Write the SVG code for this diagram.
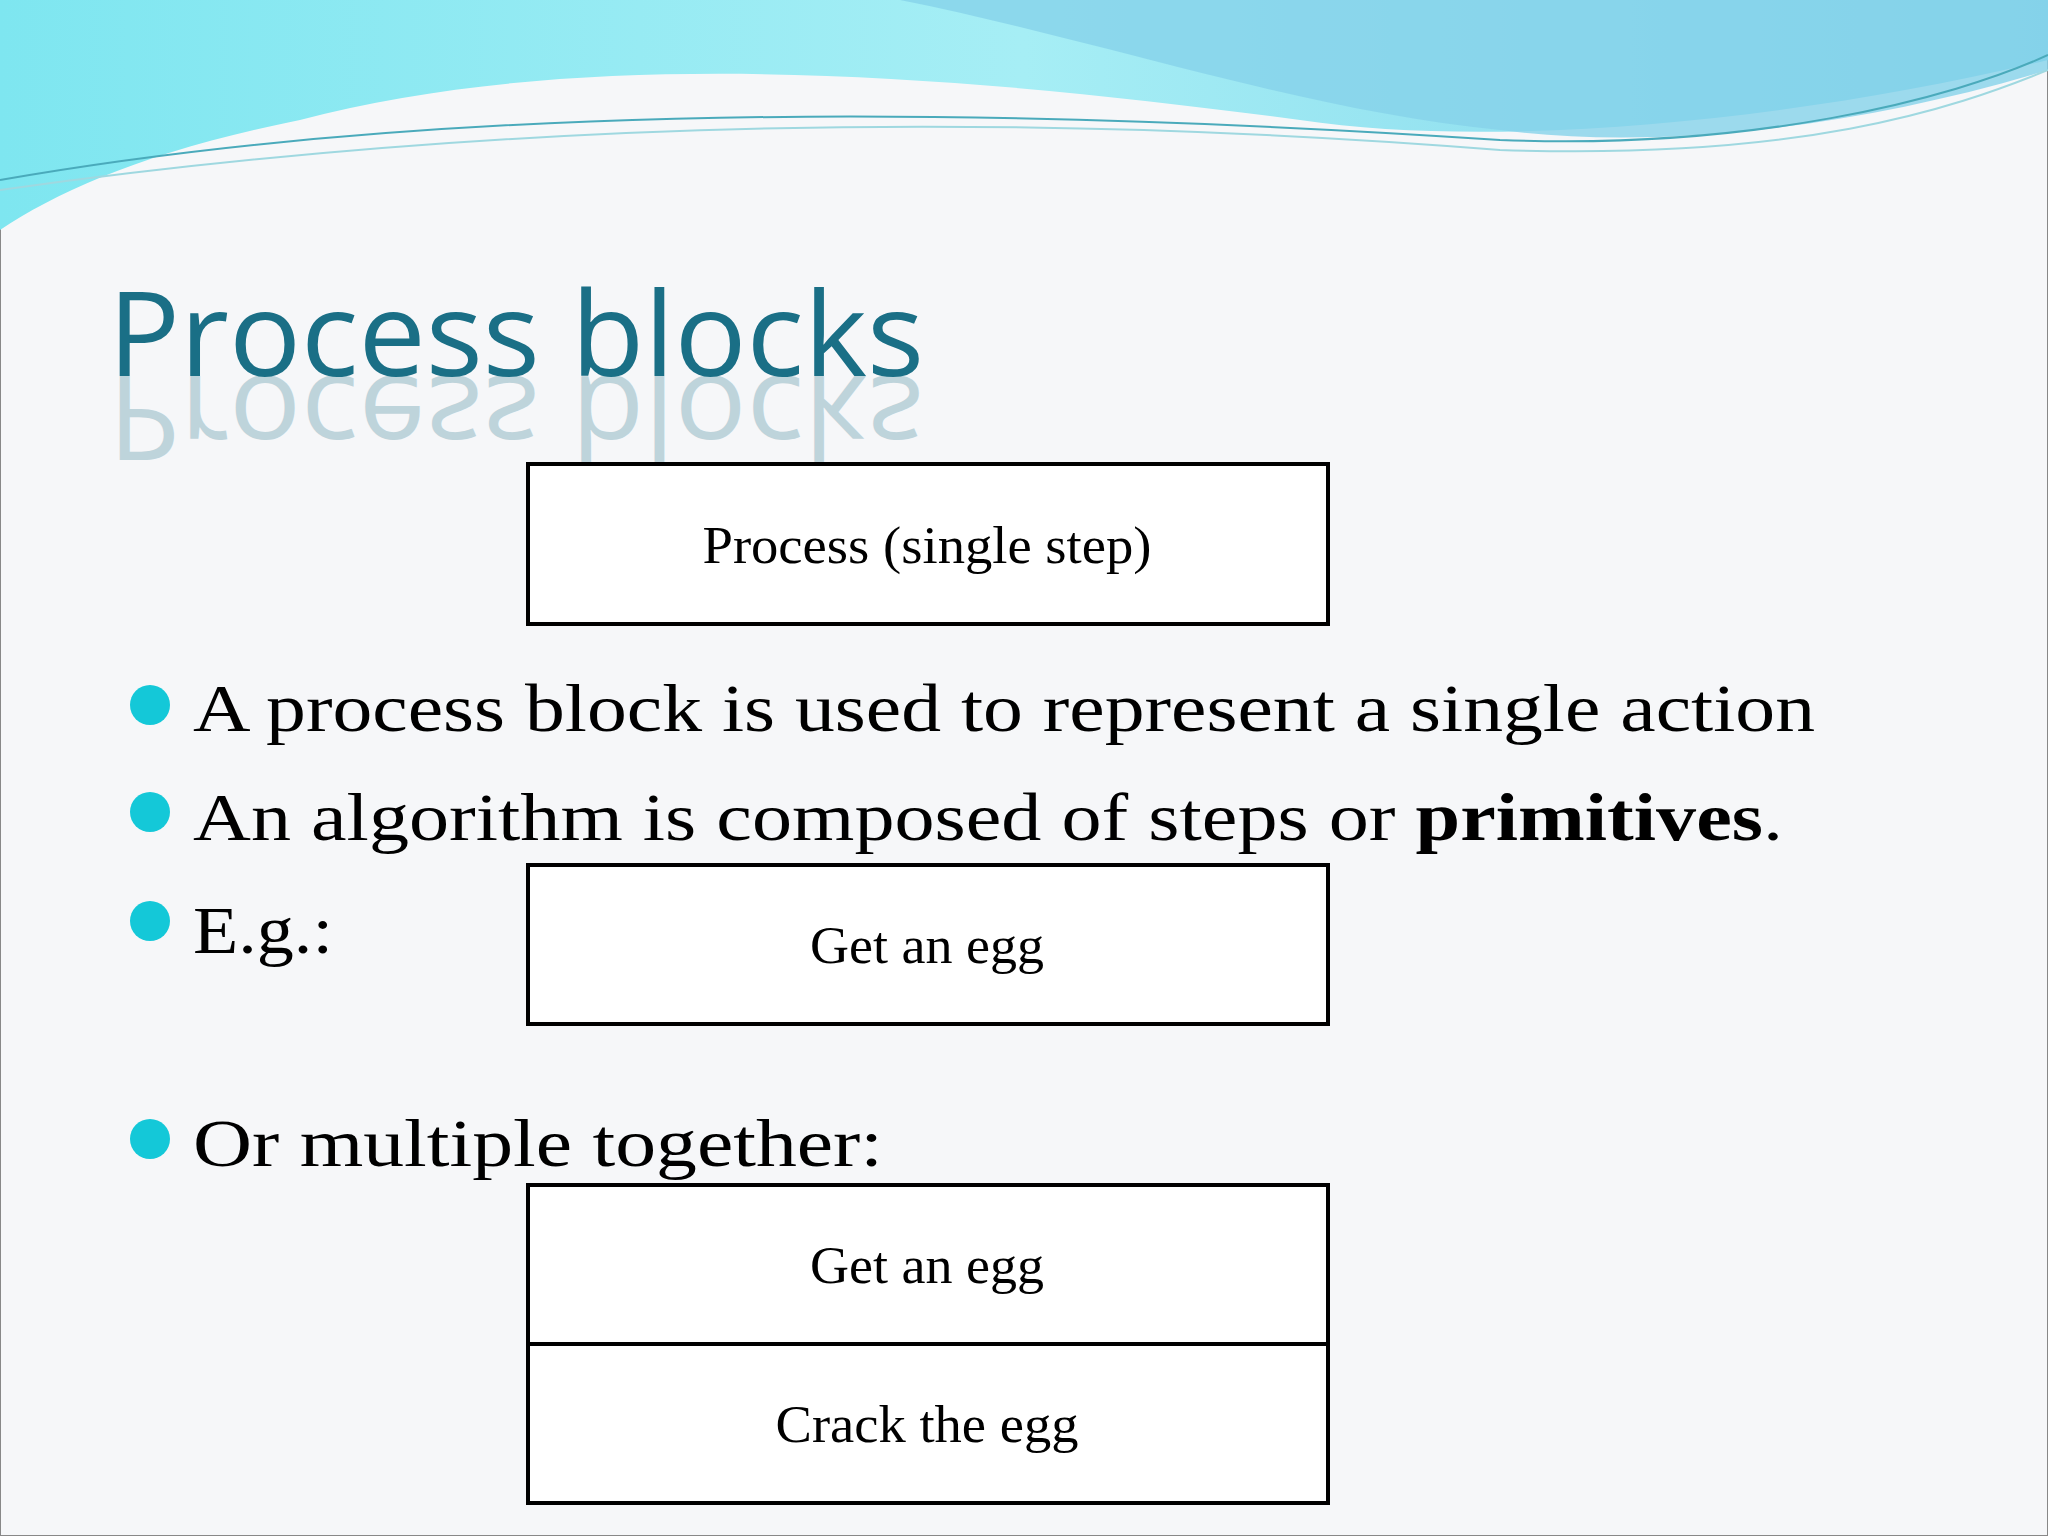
<svg xmlns="http://www.w3.org/2000/svg" width="2048" height="1536" viewBox="0 0 2048 1536">
<style>
.box{fill:#fff;stroke:#000;stroke-width:4}
.bt{font-family:"Liberation Serif",serif;font-size:52px;text-anchor:middle;fill:#000}
.bl{font-family:"Liberation Serif",serif;font-size:68px;fill:#000}
.dot{fill:#14c8d8}
</style>
<defs>
<linearGradient id="sky" x1="0" y1="0" x2="1" y2="0">
<stop offset="0" stop-color="#7ee6f0"/><stop offset="0.5" stop-color="#a6eef5"/><stop offset="1" stop-color="#7fd3ea"/>
</linearGradient>
<linearGradient id="refl" x1="0" y1="376" x2="0" y2="450" gradientUnits="userSpaceOnUse">
<stop offset="0" stop-color="#1a6f86" stop-opacity="0.3"/><stop offset="1" stop-color="#1a6f86" stop-opacity="0"/>
</linearGradient>
</defs>
<rect width="2048" height="1536" fill="#f6f7f9" stroke="#888" stroke-width="2"/>
<path d="M0 0H2048V60C1800 120 1500 150 1300 120C1000 80 600 40 300 120C150 150 60 190 0 230Z" fill="url(#sky)"/>
<path d="M900 0H2048V70C1850 130 1650 150 1500 130C1300 110 1100 40 900 0Z" fill="#86d2ea" opacity="0.8"/>
<path d="M0 180C400 110 900 100 1500 140C1750 150 1950 100 2048 55" fill="none" stroke="#4aaabb" stroke-width="2"/>
<path d="M0 190C500 120 1000 110 1500 150C1800 160 1950 110 2048 70" fill="none" stroke="#9fd8e0" stroke-width="2"/>
<text x="108" y="376" font-family="Open Sans, sans-serif" font-size="118" fill="#1a6f86" textLength="816" lengthAdjust="spacingAndGlyphs">Process blocks</text>
<g transform="translate(0,752) scale(1,-1)"><text x="108" y="376" font-family="Open Sans, sans-serif" font-size="118" fill="#1a6f86" opacity="0.25" textLength="816" lengthAdjust="spacingAndGlyphs">Process blocks</text></g>
<g id="n1"><rect class="box" x="528" y="464" width="800" height="160"/><text class="bt" x="927" y="563" textLength="449" lengthAdjust="spacingAndGlyphs">Process (single step)</text></g>
<g id="b1"><circle class="dot" cx="150" cy="705" r="20"/><text class="bl" x="193" y="731" textLength="1622" lengthAdjust="spacingAndGlyphs">A process block is used to represent a single action</text></g>
<g id="b2"><circle class="dot" cx="150" cy="812" r="20"/><text class="bl" x="193" y="840" textLength="1590" lengthAdjust="spacingAndGlyphs">An algorithm is composed of steps or <tspan font-weight="bold">primitives</tspan>.</text></g>
<g id="b3"><circle class="dot" cx="150" cy="921" r="20"/><text class="bl" x="193" y="953" textLength="140" lengthAdjust="spacingAndGlyphs">E.g.:</text></g>
<g id="n2"><rect class="box" x="528" y="865" width="800" height="159"/><text class="bt" x="927" y="963" textLength="234" lengthAdjust="spacingAndGlyphs">Get an egg</text></g>
<g id="b4"><circle class="dot" cx="150" cy="1139" r="20"/><text class="bl" x="193" y="1166" textLength="690" lengthAdjust="spacingAndGlyphs">Or multiple together:</text></g>
<g id="n3"><rect class="box" x="528" y="1185" width="800" height="159"/><text class="bt" x="927" y="1283" textLength="234" lengthAdjust="spacingAndGlyphs">Get an egg</text></g>
<g id="n4"><rect class="box" x="528" y="1344" width="800" height="159"/><text class="bt" x="927" y="1442" textLength="303" lengthAdjust="spacingAndGlyphs">Crack the egg</text></g>
<g id="connectors"/>
</svg>
